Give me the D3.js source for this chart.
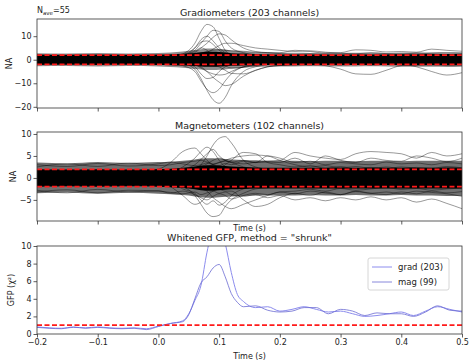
<!DOCTYPE html>
<html>
<head>
<meta charset="utf-8">
<script src="https://cdn.jsdelivr.net/npm/d3@7"></script>
<style>
  body { margin: 0; background: #fff; }
  text { font-family: "DejaVu Sans", sans-serif; fill: #222; }
</style>
</head>
<body>
<svg id="chart" width="474" height="363"></svg>
<script>
// sample times (s) shared by the butterfly traces
const times = [-0.2, -0.15, -0.1, -0.05, 0, 0.02, 0.04, 0.06, 0.07, 0.08, 0.09, 0.1, 0.11, 0.12, 0.14, 0.16, 0.18, 0.2,
  0.225, 0.25, 0.275, 0.3, 0.325, 0.35, 0.375, 0.4, 0.425, 0.45, 0.475, 0.5];

// dense part of the gradiometer traces (core) and its fringe
const gradCoreHi = [2.2, 2.1, 2.2, 2.1, 2.2, 2.3, 2.5, 2.9, 3.2, 3.4, 3.4, 3.3, 3.1, 2.8, 2.6, 2.4, 2.3, 2.2, 2.2, 2.2, 2.2, 2.2, 2.2, 2.2, 2.2, 2.3, 2.3, 2.4, 2.4, 2.4];
const gradCoreLo = [-2.2, -2.1, -2.2, -2.1, -2.2, -2.3, -2.5, -2.7, -2.9, -3.0, -3.0, -2.9, -2.8, -2.6, -2.4, -2.3, -2.2, -2.2, -2.2, -2.2, -2.2, -2.2, -2.2, -2.2, -2.2, -2.3, -2.3, -2.3, -2.3, -2.3];
const gradFuzzHi = [2.8, 2.7, 2.9, 2.7, 2.9, 3.1, 3.5, 4.1, 4.5, 4.8, 4.8, 4.6, 4.3, 3.9, 3.5, 3.2, 3.1, 3.0, 3.0, 2.9, 3.0, 2.9, 3.0, 3.0, 2.9, 3.1, 3.1, 3.2, 3.3, 3.2];
const gradFuzzLo = [-2.8, -2.7, -2.9, -2.7, -2.9, -3.1, -3.4, -3.9, -4.2, -4.4, -4.4, -4.3, -4.1, -3.8, -3.4, -3.1, -3.0, -2.9, -2.9, -2.8, -2.9, -2.9, -2.9, -2.8, -2.9, -3.0, -3.0, -3.0, -3.1, -3.0];

const gradTraces = [
  [0.5, 0.8, 0.3, 0.6, 1.0, 1.5, 2.5, 7, 12, 15, 14, 9, 4, 2, 1.5, 1.2, 1.0, 0.8, 1.0, 0.9, 0.6, 0.8, 1.0, 0.6, 0.8, 1.0, 0.7, 0.9, 1.1, 0.8],
  [-0.3, 0.2, 0.5, 0.1, 0.6, 1.2, 2.0, 4.0, 7.0, 10.0, 12.5, 12.0, 8.0, 5.0, 3.0, 2.0, 1.8, 1.5, 1.2, 1.4, 1.0, 1.2, 0.9, 1.1, 1.3, 0.8, 1.0, 1.2, 0.9, 1.0],
  [0.2, -0.4, 0.3, 0.5, 0.2, 0.8, 1.5, 3.0, 5.0, 7.0, 9.5, 11.0, 10.5, 8.5, 5.0, 3.5, 3.0, 2.6, 2.2, 2.5, 2.0, 1.8, 2.2, 1.9, 2.0, 2.3, 1.8, 2.0, 2.2, 1.9],
  [0.4, 0.1, -0.2, 0.3, 0.5, 1.0, 2.0, 5.0, 7.5, 8.0, 6.5, 4.0, 2.5, 1.8, 1.2, 0.8, 0.9, 0.5, 0.7, 0.3, 0.6, 0.4, 0.2, 0.5, 0.6, 0.3, 0.5, 0.2, 0.4, 0.6],
  [0.1, 0.4, 0.2, -0.2, 0.3, 0.5, 0.9, 1.5, 2.0, 3.0, 4.5, 6.0, 7.0, 7.0, 6.0, 5.0, 4.5, 4.0, 3.5, 3.8, 3.2, 2.8, 2.5, 3.0, 2.6, 2.4, 2.8, 2.5, 2.2, 2.6],
  [-0.2, 0.3, -0.5, 0.1, -0.4, -0.8, -1.5, -4.0, -8.0, -13.0, -17.0, -18.5, -16.0, -11.0, -5.0, -3.0, -2.0, -1.5, -1.2, -1.4, -1.0, -1.3, -0.9, -1.2, -1.0, -1.3, -1.1, -0.8, -1.2, -1.0],
  [0.3, -0.2, -0.4, 0.2, -0.5, -1.2, -2.5, -5.0, -9.0, -12.5, -14.0, -12.5, -9.0, -6.0, -3.0, -2.0, -1.6, -1.2, -1.5, -1.0, -1.4, -1.2, -1.6, -1.0, -1.3, -1.5, -1.2, -1.0, -1.4, -1.1],
  [-0.4, 0.2, 0.1, -0.3, -0.2, -0.6, -1.2, -2.0, -3.0, -5.0, -7.5, -9.5, -11.0, -10.5, -7.0, -4.5, -3.0, -2.5, -2.0, -2.3, -1.8, -2.0, -1.7, -2.2, -1.9, -2.1, -1.6, -2.0, -1.8, -2.2],
  [0.2, -0.3, 0.4, -0.1, -0.3, -0.8, -1.5, -3.0, -6.0, -8.0, -7.5, -5.0, -3.0, -2.0, -1.5, -1.0, -0.8, -0.6, -0.9, -0.5, -0.8, -0.6, -1.0, -0.7, -0.5, -0.8, -0.6, -0.9, -0.7, -0.5],
  [-0.1, 0.3, -0.2, 0.4, 0.1, -0.3, -0.6, -1.0, -1.5, -2.0, -2.5, -3.0, -4.5, -5.8, -6.0, -4.5, -3.0, -2.4, -2.0, -1.6, -1.8, -1.5, -1.7, -1.4, -1.6, -1.3, -1.5, -1.7, -1.4, -1.6],
  [0.3, 0.0, -0.3, 0.2, 0.4, 0.2, -0.3, -0.8, -1.2, -1.5, -1.2, -1.0, -1.4, -1.8, -2.0, -2.2, -2.0, -2.4, -2.2, -2.0, -2.5, -4.0, -6.0, -6.2, -4.5, -2.5, -2.2, -2.0, -2.3, -2.1],
  [-0.3, 0.2, 0.3, -0.2, 0.1, 0.3, 0.6, 1.0, 0.8, 0.5, 0.2, -0.5, -1.0, -1.5, -1.8, -2.0, -1.6, -1.8, -2.2, -1.9, -2.0, -2.3, -1.8, -2.1, -2.0, -2.0, -3.0, -5.0, -6.5, -5.5],
  [0.2, -0.1, 0.3, 0.1, 0.5, 0.8, 1.2, 2.0, 2.8, 3.5, 4.0, 4.2, 4.0, 3.8, 3.6, 3.2, 3.0, 3.0, 4.0, 3.5, 2.8, 3.0, 4.2, 4.0, 3.3, 3.5, 3.2, 4.5, 4.0, 3.6],
  [0.1, 0.3, -0.2, 0.2, 0.4, 0.8, 1.5, 5.0, 8.5, 10.0, 8.0, 5.0, 3.0, 2.0, 1.4, 1.0, 0.8, 0.6, 0.9, 0.5, 0.8, 0.6, 0.4, 0.7, 0.5, 0.8, 0.6, 0.4, 0.7, 0.5],
  [-0.2, 0.1, 0.3, -0.3, 0.2, -0.5, -1.0, -2.0, -3.5, -5.0, -6.0, -6.5, -6.2, -5.0, -3.0, -2.2, -1.8, -1.5, -1.8, -1.3, -1.6, -1.2, -1.5, -1.4, -1.1, -1.4, -1.2, -1.5, -1.3, -1.1],
  [0.3, -0.2, 0.1, 0.2, -0.1, 0.6, 1.5, 3.5, 5.0, 4.0, 1.5, -1.0, -2.5, -3.5, -3.2, -2.4, -1.8, -1.2, -1.0, -1.3, -0.8, -1.1, -0.9, -0.7, -1.0, -0.8, -1.1, -0.9, -0.6, -0.9]
];

// dense part of the magnetometer traces and its fringe
const magCoreHi = [2.0, 1.9, 2.0, 1.9, 2.0, 2.1, 2.3, 2.6, 2.8, 2.9, 2.9, 2.8, 2.7, 2.6, 2.5, 2.4, 2.3, 2.3, 2.3, 2.3, 2.3, 2.3, 2.3, 2.3, 2.3, 2.3, 2.3, 2.3, 2.3, 2.3];
const magCoreLo = [-2.0, -1.9, -2.0, -1.9, -2.0, -2.1, -2.3, -2.6, -2.8, -2.9, -2.9, -2.8, -2.7, -2.6, -2.5, -2.4, -2.4, -2.4, -2.4, -2.4, -2.4, -2.4, -2.4, -2.4, -2.4, -2.4, -2.4, -2.4, -2.4, -2.4];
const magFuzzHi = [3.5, 3.3, 3.6, 3.4, 3.6, 3.7, 3.9, 4.2, 4.4, 4.5, 4.5, 4.4, 4.3, 4.2, 4.1, 4.0, 3.9, 3.9, 3.9, 3.8, 3.9, 3.9, 3.8, 3.9, 3.9, 3.8, 3.9, 3.9, 3.9, 3.9];
const magFuzzLo = [-3.5, -3.3, -3.6, -3.4, -3.6, -3.7, -3.9, -4.2, -4.4, -4.5, -4.5, -4.4, -4.3, -4.2, -4.1, -4.0, -4.0, -4.0, -4.0, -3.9, -4.0, -4.0, -3.9, -4.0, -4.0, -3.9, -4.0, -4.0, -4.1, -4.1];

const magTraces = [
  [0.5, -0.5, 0.8, 0.3, 1.0, 1.5, 1.8, 2.0, 3.0, 5.0, 7.5, 9.0, 9.4, 8.0, 4.0, 2.5, 2.0, 1.5, 1.8, 1.2, 1.6, 1.0, 1.4, 1.2, 0.9, 1.3, 1.0, 1.5, 1.1, 1.3],
  [0.3, 0.8, -0.4, 1.0, 2.0, 3.5, 6.0, 6.8, 5.5, 4.0, 3.0, 2.5, 2.0, 1.5, 1.0, 0.8, 1.2, 0.6, 1.0, 0.5, 0.8, 1.1, 0.7, 0.9, 1.2, 0.6, 0.9, 0.7, 1.0, 0.8],
  [-0.5, 0.4, 0.6, -0.3, 0.5, 0.8, 1.2, 1.5, 1.8, 2.0, 2.2, 2.0, 3.0, 4.0, 5.8, 5.5, 3.5, 3.0, 2.5, 2.8, 2.2, 2.6, 2.0, 2.4, 2.1, 2.5, 2.2, 2.0, 2.4, 2.2],
  [0.2, -0.6, 0.4, -0.8, -1.0, -1.5, -2.0, -4.0, -6.0, -8.0, -8.8, -8.5, -6.5, -5.0, -3.5, -2.5, -2.2, -1.8, -2.0, -1.5, -1.8, -1.4, -1.7, -1.2, -1.6, -1.3, -1.8, -1.5, -1.2, -1.6],
  [-0.4, 0.5, -0.3, 0.2, -0.6, -1.0, -1.5, -2.0, -2.5, -3.0, -4.5, -5.5, -6.5, -7.0, -6.0, -5.0, -4.0, -3.2, -3.0, -2.6, -3.0, -2.4, -2.8, -2.5, -2.2, -2.6, -2.4, -2.8, -2.5, -2.3],
  [0.6, -0.3, -0.7, 0.4, -1.0, -2.0, -4.0, -6.0, -5.5, -4.0, -3.0, -2.5, -2.0, -1.5, -1.2, -1.0, -1.4, -0.8, -1.1, -0.6, -0.9, -1.2, -0.7, -1.0, -0.8, -1.1, -0.6, -0.9, -1.2, -0.8],
  [2.5, 3.2, 2.6, 3.4, 2.8, 3.0, 3.5, 3.8, 4.0, 3.6, 3.2, 3.5, 3.8, 3.6, 3.2, 3.6, 3.8, 4.0, 5.8, 5.0, 4.5, 4.2, 5.5, 6.0, 5.8, 5.5, 4.5, 5.8, 5.0, 5.5],
  [3.0, 2.6, 3.3, 2.7, 3.2, 3.6, 3.2, 2.8, 3.0, 3.4, 3.0, 2.8, 3.3, 3.0, 3.8, 3.5, 3.6, 3.5, 4.5, 3.2, 5.0, 4.0, 3.5, 4.5, 4.0, 3.8, 5.0, 4.5, 3.7, 4.5],
  [-3.2, -2.7, -3.4, -2.8, -3.0, -3.3, -3.6, -3.2, -3.8, -3.4, -3.0, -3.5, -3.2, -3.8, -4.2, -3.8, -4.5, -4.0, -5.0, -4.5, -5.2, -4.5, -5.0, -4.3, -5.0, -4.5, -5.5, -4.8, -5.8, -7.0],
  [0.4, -0.2, 0.5, 0.2, 0.6, 1.2, 2.0, 3.0, 4.2, 5.5, 6.5, 5.0, 4.0, 3.5, 2.5, 2.0, 1.8, 1.5, 1.2, 1.6, 1.0, 1.4, 1.1, 1.5, 1.2, 1.0, 1.4, 1.2, 1.5, 1.1],
  [-0.3, 0.2, -0.5, 0.3, -0.2, -0.6, -1.0, -1.2, -1.5, -1.8, -2.0, -2.5, -3.0, -3.0, -5.0, -6.5, -6.0, -4.5, -3.5, -4.0, -3.2, -3.8, -3.0, -3.5, -3.8, -3.2, -3.6, -3.0, -3.4, -3.1],
  [-2.8, -3.4, -2.6, -3.2, -2.9, -3.5, -3.0, -3.8, -4.5, -5.0, -4.2, -3.6, -4.0, -4.8, -4.0, -3.5, -3.8, -3.2, -3.6, -3.0, -3.4, -3.8, -3.1, -3.5, -3.2, -3.6, -3.0, -3.3, -3.6, -4.2],
  [0.2, 0.5, -0.3, 0.4, 0.8, 1.0, 1.5, 2.0, 2.5, 3.2, 4.0, 4.5, 4.0, 3.6, 4.0, 3.5, 5.0, 4.5, 3.5, 3.8, 3.0, 3.5, 3.2, 3.0, 3.6, 3.2, 3.4, 3.0, 3.5, 3.2],
  [0.1, 0.4, -0.2, 0.3, 0.5, 1.0, 2.5, 4.5, 6.0, 7.0, 6.0, 4.0, 2.5, 1.5, 0.5, -0.5, -1.0, -1.2, -0.8, -1.1, -0.7, -1.0, -0.6, -0.9, -1.1, -0.7, -1.0, -0.8, -0.6, -0.9],
  [-0.2, 0.3, 0.1, -0.4, -0.5, -1.0, -2.5, -3.5, -5.0, -6.0, -5.2, -6.2, -5.5, -4.0, -2.5, -2.0, -1.6, -1.3, -1.6, -1.1, -1.4, -1.0, -1.3, -1.5, -1.1, -1.4, -1.2, -1.0, -1.3, -1.5],
  [0.3, -0.2, 0.4, 0.1, 0.3, 0.6, 1.0, 1.5, 2.0, 2.5, 3.0, 3.5, 4.0, 4.5, 5.0, 5.2, 5.0, 4.0, 3.0, 2.5, 2.8, 2.3, 2.6, 2.2, 2.5, 2.1, 2.4, 2.2, 2.6, 2.3]
];

// GFP panel
const gfpTimes = [-0.2, -0.18, -0.16, -0.14, -0.12, -0.1, -0.08, -0.06, -0.04, -0.02, 0, 0.02, 0.04, 0.05, 0.06, 0.07, 0.08, 0.09, 0.1, 0.11,
  0.12, 0.13, 0.14, 0.16, 0.18, 0.2, 0.22, 0.24, 0.26, 0.28, 0.3, 0.32, 0.34, 0.36, 0.38, 0.4, 0.42, 0.44, 0.46, 0.48, 0.5];
const gradGfp = [0.8, 0.7, 0.65, 0.75, 0.7, 0.8, 0.7, 0.65, 0.7, 0.6, 0.9, 1.2, 1.5, 2.3, 3.8, 5.5, 9.3, 12.0, 12.5, 10.3,
  7.0, 4.5, 3.7, 3.0, 3.1, 2.6, 2.8, 3.1, 2.8, 2.5, 2.6, 2.3, 2.0, 2.1, 2.3, 2.5, 2.1, 2.6, 3.1, 2.8, 2.5];
const magGfp = [0.75, 0.65, 0.6, 0.8, 0.65, 0.75, 0.65, 0.6, 0.65, 0.5, 0.85, 1.2, 1.4, 2.2, 4.0, 5.8, 6.5, 7.5, 7.9, 6.5,
  4.6, 3.6, 3.1, 3.2, 2.7, 2.5, 2.6, 3.0, 3.0, 2.3, 2.8, 2.6, 2.1, 2.4, 2.3, 2.3, 2.0, 2.5, 3.2, 2.7, 2.6];
const gfpSeries = [
  { name: "grad (203)", values: gradGfp, color: "#8c8cee", width: 1.0 },
  { name: "mag (99)", values: magGfp, color: "#6a6ad2", width: 0.8 }
];

const timeTicks = [-0.2, -0.1, 0.0, 0.1, 0.2, 0.3, 0.4, 0.5];
const gradTicks = [-20, -10, 0, 10];
const magTicks = [-5, 0, 5, 10];
const gfpTicks = [0, 2, 4, 6, 8, 10];
const gradLimit = 1.96, magLimit = 1.96, gfpLimit = 1;

const svg = d3.select("#chart");
const left = 37, right = 462;
const x = d3.scaleLinear().domain([-0.2, 0.5]).range([left, right]);

const panels = [
  { id: "grad", top: 19, bottom: 108, domain: [-20.5, 17.3], ticks: gradTicks },
  { id: "mag", top: 132, bottom: 221, domain: [-9.8, 10.45], ticks: magTicks },
  { id: "gfp", top: 246, bottom: 334, domain: [0, 10], ticks: gfpTicks }
];
panels.forEach((p) => {
  p.y = d3.scaleLinear().domain(p.domain).range([p.bottom, p.top]);
  svg.append("clipPath").attr("id", `clip-${p.id}`)
    .append("rect").attr("x", left).attr("y", p.top)
    .attr("width", right - left).attr("height", p.bottom - p.top);
});

const dashRed = "#ff1a1a";

function butterfly(p, coreHi, coreLo, fuzzHi, fuzzLo, traces, limit, fuzzOpacity) {
  const g = svg.append("g").attr("clip-path", `url(#clip-${p.id})`);
  const band = (hi, lo) => d3.area()
    .x((d, i) => x(times[i]))
    .y0((d, i) => p.y(lo[i]))
    .y1((d, i) => p.y(hi[i]))
    .curve(d3.curveMonotoneX)(hi);
  g.append("path").attr("d", band(fuzzHi, fuzzLo)).attr("fill", "#333").attr("opacity", fuzzOpacity);
  g.append("path").attr("d", band(coreHi, coreLo)).attr("fill", "#000");
  const line = d3.line().x((d, i) => x(times[i])).y((d) => p.y(d)).curve(d3.curveMonotoneX);
  g.selectAll(".trace").data(traces).join("path")
    .attr("class", "trace")
    .attr("d", line)
    .attr("fill", "none")
    .attr("stroke", "#000")
    .attr("stroke-opacity", 0.5)
    .attr("stroke-width", 0.8);
  g.selectAll(".limit").data([limit, -limit]).join("line")
    .attr("class", "limit")
    .attr("x1", left).attr("x2", right)
    .attr("y1", (d) => p.y(d)).attr("y2", (d) => p.y(d))
    .attr("stroke", dashRed).attr("stroke-width", 1.7)
    .attr("stroke-dasharray", "5,2.5");
}

butterfly(panels[0], gradCoreHi, gradCoreLo, gradFuzzHi, gradFuzzLo, gradTraces, gradLimit, 0.55);
butterfly(panels[1], magCoreHi, magCoreLo, magFuzzHi, magFuzzLo, magTraces, magLimit, 0.7);

// GFP lines
const pg = panels[2];
const gg = svg.append("g").attr("clip-path", `url(#clip-gfp)`);
gg.selectAll(".gfp").data(gfpSeries).join("path")
  .attr("class", "gfp")
  .attr("d", (s) => d3.line().x((d, i) => x(gfpTimes[i])).y((d) => pg.y(d)).curve(d3.curveMonotoneX)(s.values))
  .attr("fill", "none")
  .attr("stroke", (s) => s.color)
  .attr("stroke-width", (s) => s.width);
gg.append("line")
  .attr("x1", left).attr("x2", right)
  .attr("y1", pg.y(gfpLimit)).attr("y2", pg.y(gfpLimit))
  .attr("stroke", dashRed).attr("stroke-width", 1.7)
  .attr("stroke-dasharray", "5,2.5");

// axes
panels.forEach((p, k) => {
  const yAxis = d3.axisLeft(p.y).tickValues(p.ticks).tickSize(3.5).tickPadding(2)
    .tickFormat((d) => d3.format("d")(d).replace("-", "\u2212"));
  const ga = svg.append("g").attr("transform", `translate(${left},0)`).call(yAxis);
  const xAxis = d3.axisBottom(x).tickValues(timeTicks).tickSize(3.5).tickPadding(2)
    .tickFormat(k === 2 ? (d) => d3.format(".1f")(d).replace("-", "\u2212") : "");
  const gx = svg.append("g").attr("transform", `translate(0,${p.bottom})`).call(xAxis);
  [ga, gx].forEach((a) => {
    a.select(".domain").remove();
    a.selectAll("line").attr("stroke", "#333").attr("stroke-width", 0.8);
    a.selectAll("text").attr("font-size", 8).attr("font-family", "DejaVu Sans").attr("fill", "#222");
  });
  svg.append("rect").attr("x", left).attr("y", p.top)
    .attr("width", right - left).attr("height", p.bottom - p.top)
    .attr("fill", "none").attr("stroke", "#333").attr("stroke-width", 0.8);
});

// titles and labels
const titles = [
  { t: "Gradiometers (203 channels)", y: 15.5 },
  { t: "Magnetometers (102 channels)", y: 129 },
  { t: "Whitened GFP, method = \"shrunk\"", y: 240.5 }
];
svg.selectAll(".title").data(titles).join("text")
  .attr("class", "title")
  .attr("x", (left + right) / 2).attr("y", (d) => d.y)
  .attr("text-anchor", "middle").attr("font-size", 9.5)
  .text((d) => d.t);

const nave = svg.append("text").attr("x", left).attr("y", 13).attr("font-size", 8);
nave.append("tspan").text("N");
nave.append("tspan").attr("font-size", 5.5).attr("dy", 1.5).text("ave");
nave.append("tspan").attr("dy", -1.5).text("=55");

[{ y: 231, t: "Time (s)" }, { y: 358.5, t: "Time (s)" }].forEach((d) => {
  svg.append("text").attr("x", (left + right) / 2).attr("y", d.y)
    .attr("text-anchor", "middle").attr("font-size", 8).text(d.t);
});

const ylabels = [
  { x: 12, y: (panels[0].top + panels[0].bottom) / 2, t: "NA" },
  { x: 16, y: (panels[1].top + panels[1].bottom) / 2, t: "NA" },
  { x: 14, y: (panels[2].top + panels[2].bottom) / 2, t: "GFP (\u03c7\u00b2)" }
];
svg.selectAll(".ylabel").data(ylabels).join("text")
  .attr("class", "ylabel")
  .attr("transform", (d) => `translate(${d.x},${d.y}) rotate(-90)`)
  .attr("text-anchor", "middle").attr("font-size", 8).text((d) => d.t);

// legend
const lg = svg.append("g").attr("transform", "translate(368,258)");
lg.append("rect").attr("width", 81).attr("height", 32).attr("rx", 2)
  .attr("fill", "#fff").attr("fill-opacity", 0.8).attr("stroke", "#ccc").attr("stroke-width", 0.8);
gfpSeries.forEach((s, i) => {
  lg.append("line").attr("x1", 4).attr("x2", 24).attr("y1", 9 + i * 15).attr("y2", 9 + i * 15)
    .attr("stroke", s.color).attr("stroke-width", s.width);
  lg.append("text").attr("x", 30).attr("y", 12 + i * 15).attr("font-size", 8.5).text(s.name);
});
</script>
</body>
</html>
